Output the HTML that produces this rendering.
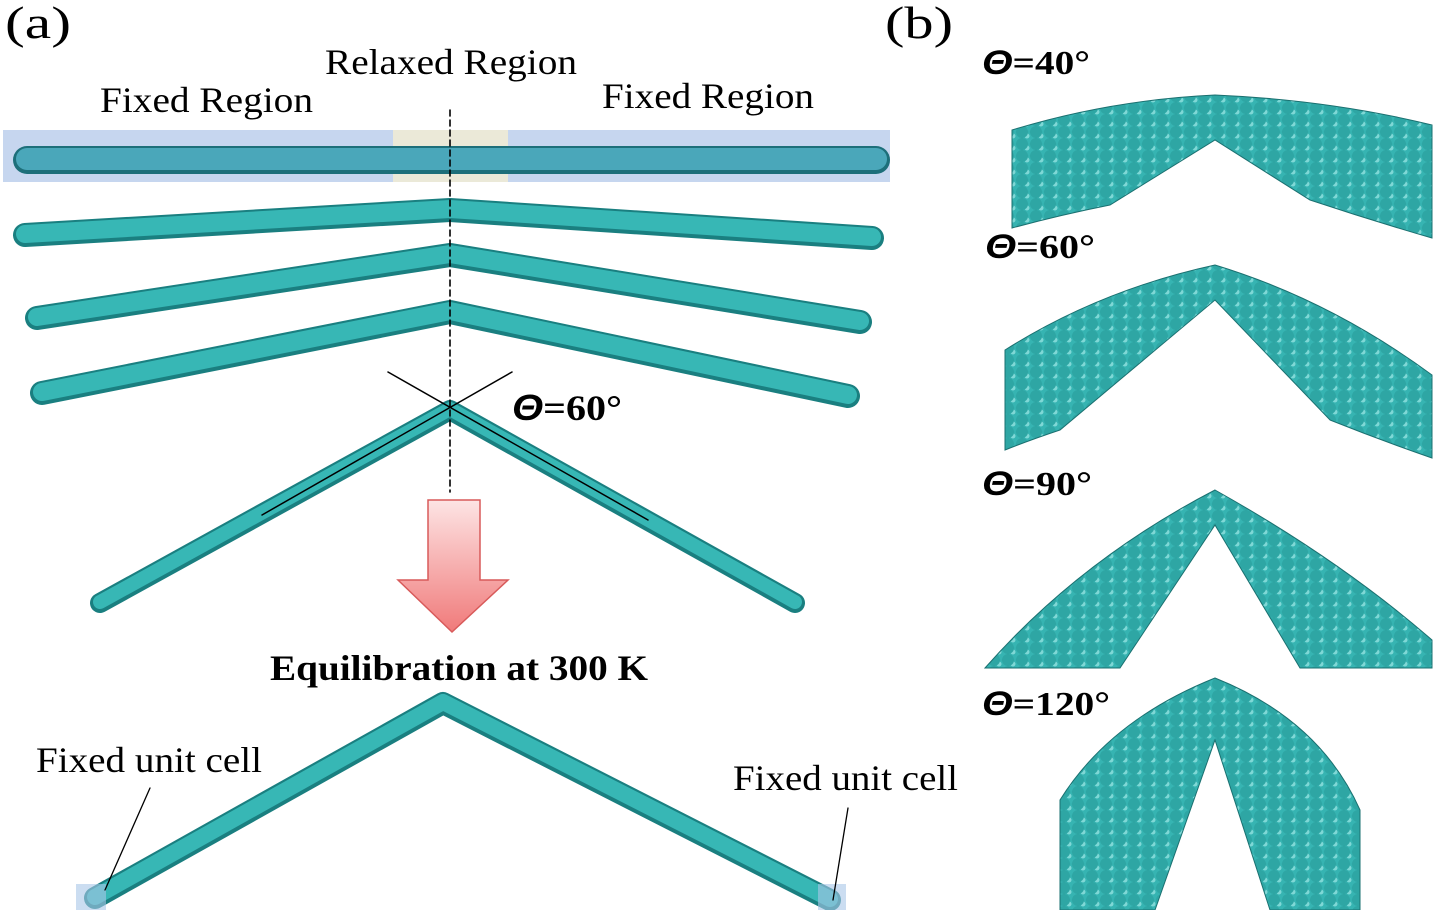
<!DOCTYPE html>
<html><head><meta charset="utf-8"><style>
html,body{margin:0;padding:0;background:#fff;width:1438px;height:910px;overflow:hidden}
svg{display:block}
text{font-family:"Liberation Serif",serif;fill:#000}
</style></head><body>
<svg width="1438" height="910" viewBox="0 0 1438 910" xmlns="http://www.w3.org/2000/svg">
<defs>
<pattern id="atoms" width="14" height="12" patternUnits="userSpaceOnUse">
<rect width="14" height="12" fill="#1f8f8d"/>
<circle cx="7" cy="6" r="6" fill="#36b4b2"/>
<circle cx="5" cy="4" r="2.5" fill="#7fd8d6"/>
<circle cx="0" cy="0" r="6" fill="#2ea6a4"/><circle cx="14" cy="0" r="6" fill="#2ea6a4"/>
<circle cx="0" cy="12" r="6" fill="#2ea6a4"/><circle cx="14" cy="12" r="6" fill="#2ea6a4"/>
</pattern>
<linearGradient id="arr" x1="0" y1="0" x2="0" y2="1">
<stop offset="0" stop-color="#fde4e4"/><stop offset="1" stop-color="#f07a7a"/></linearGradient>
</defs>
<g fill="none" stroke-linejoin="round" stroke-linecap="round">
<rect x="3" y="130" width="887" height="52" fill="#c6d6ef" stroke="none"/>
<rect x="393" y="130" width="115" height="52" fill="#ebe9d8" stroke="none"/>
<path d="M27 160 L876 160" stroke="#1d6f7a" stroke-width="28"/>
<path d="M27 159 L876 159" stroke="#4aa7ba" stroke-width="22"/>
<path d="M25 235 L450 210 L872 238" stroke="#1a7f80" stroke-width="24"/>
<path d="M25 234 L450 209 L872 237" stroke="#37b7b5" stroke-width="18"/>
<path d="M37 318 L450 255 L860 322" stroke="#1a7f80" stroke-width="24"/>
<path d="M37 317 L450 254 L860 321" stroke="#37b7b5" stroke-width="18"/>
<path d="M42 393 L450 312 L848 396" stroke="#1a7f80" stroke-width="24"/>
<path d="M42 392 L450 311 L848 395" stroke="#37b7b5" stroke-width="18"/>
<path d="M100 603 L450 410 L795 603" stroke="#1a7f80" stroke-width="20"/>
<path d="M100 602 L450 409 L795 602" stroke="#37b7b5" stroke-width="14"/>
<path d="M95 898 L443 703 L830 900" stroke="#1a7f80" stroke-width="22"/>
<path d="M95 897 L443 702 L830 899" stroke="#37b7b5" stroke-width="16"/>
<rect x="76" y="884" width="30" height="26" fill="#a9c6e8" opacity="0.6" stroke="none"/>
<rect x="818" y="884" width="28" height="26" fill="#a9c6e8" opacity="0.6" stroke="none"/>
<path d="M450 110 L450 492" stroke="#000" stroke-width="1.6" stroke-dasharray="6,4"/>
<path d="M388 372 L648 520 M512 372 L262 515" stroke="#000" stroke-width="1.5"/>
<path d="M150 788 L105 890 M848 808 L833 900" stroke="#000" stroke-width="1.3"/>
</g>
<path d="M428 500 H480 V580 H508 L452 632 L398 580 H428 Z" fill="url(#arr)" stroke="#d85a5a" stroke-width="1.5"/>
<g fill="url(#atoms)" stroke="#1a7070" stroke-width="1">
<path d="M1012 130 Q1110 100 1215 95 Q1330 100 1432 125 L1432 238 Q1370 220 1310 200 L1215 140 L1110 205 Q1060 215 1012 228 Z"/>
<path d="M1005 350 Q1100 290 1215 265 Q1330 300 1432 375 L1432 458 Q1380 440 1330 420 L1215 300 L1060 430 Q1030 440 1005 450 Z"/>
<path d="M985 668 Q1080 560 1215 490 Q1340 560 1432 640 L1432 668 L1300 668 L1215 525 L1120 668 Z"/>
<path d="M1060 800 Q1110 720 1215 678 Q1320 720 1360 810 L1360 910 L1270 910 L1215 740 L1155 910 L1060 910 Z"/>
</g>
<text x="5" y="38" font-size="46" textLength="66" lengthAdjust="spacingAndGlyphs">(a)</text>
<text x="885" y="38" font-size="46" textLength="68" lengthAdjust="spacingAndGlyphs">(b)</text>
<text x="325" y="74" font-size="36" textLength="252" lengthAdjust="spacingAndGlyphs">Relaxed Region</text>
<text x="100" y="112" font-size="36" textLength="213" lengthAdjust="spacingAndGlyphs">Fixed Region</text>
<text x="602" y="108" font-size="36" textLength="212" lengthAdjust="spacingAndGlyphs">Fixed Region</text>
<text x="512" y="420" font-size="36" font-weight="bold" textLength="110" lengthAdjust="spacingAndGlyphs"><tspan font-style="italic" font-family="Liberation Sans,sans-serif">Θ</tspan>=60°</text>
<text x="982" y="74" font-size="34" font-weight="bold" textLength="108" lengthAdjust="spacingAndGlyphs"><tspan font-style="italic" font-family="Liberation Sans,sans-serif">Θ</tspan>=40°</text>
<text x="985" y="258" font-size="34" font-weight="bold" textLength="110" lengthAdjust="spacingAndGlyphs"><tspan font-style="italic" font-family="Liberation Sans,sans-serif">Θ</tspan>=60°</text>
<text x="982" y="495" font-size="34" font-weight="bold" textLength="110" lengthAdjust="spacingAndGlyphs"><tspan font-style="italic" font-family="Liberation Sans,sans-serif">Θ</tspan>=90°</text>
<text x="982" y="715" font-size="34" font-weight="bold" textLength="128" lengthAdjust="spacingAndGlyphs"><tspan font-style="italic" font-family="Liberation Sans,sans-serif">Θ</tspan>=120°</text>
<text x="270" y="680" font-size="36" font-weight="bold" textLength="378" lengthAdjust="spacingAndGlyphs">Equilibration at 300 K</text>
<text x="36" y="772" font-size="36" textLength="226" lengthAdjust="spacingAndGlyphs">Fixed unit cell</text>
<text x="733" y="790" font-size="36" textLength="225" lengthAdjust="spacingAndGlyphs">Fixed unit cell</text>
</svg>
</body></html>
